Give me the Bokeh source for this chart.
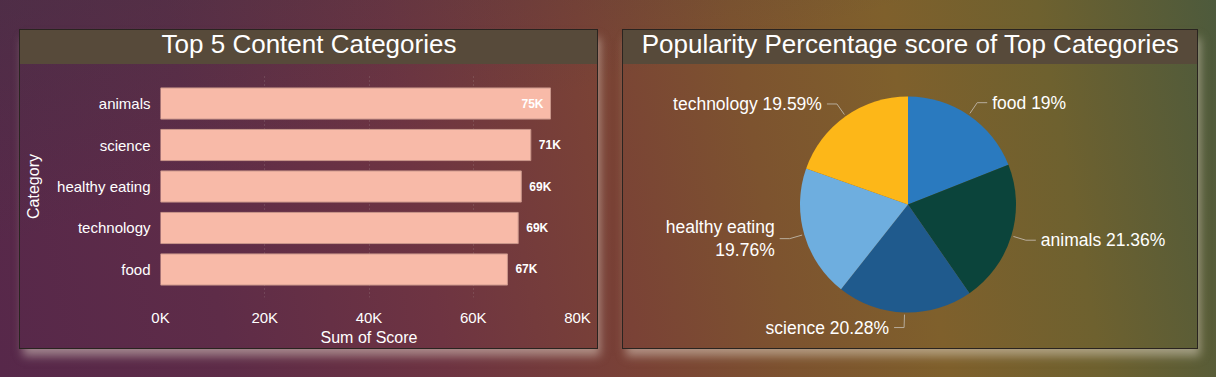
import math
from bokeh.plotting import figure
from bokeh.layouts import row, column
from bokeh.models import (ColumnDataSource, FactorRange, Range1d, FixedTicker,
                          CustomJSTickFormatter)
from bokeh.core.properties import value
from bokeh.embed import file_html
from bokeh.resources import INLINE

FONT = "Liberation Sans"

# ---------------- data ----------------
categories = ["animals", "science", "healthy eating", "technology", "food"]
scores = [74824, 71041, 69219, 68624, 66557]
x_ticks = [0, 20000, 40000, 60000, 80000]
x_tick_labels = ["0K", "20K", "40K", "60K", "80K"]
pie_order = ["food", "animals", "science", "healthy eating", "technology"]
pie_colors = ["#2a7abf", "#0b443b", "#1f5a8d", "#6eaedf", "#fdb718"]
titles = ["Top 5 Content Categories", "Popularity Percentage score of Top Categories"]

X_MAX = x_ticks[-1]

# ---------------- styling helpers ----------------
BAND_H = 34
CHART_H = 284
LEFT_W = 577
RIGHT_W = 574
BL, BR = 140, 20   # bar chart side borders
BAND_COLOR = "#574a3a"


def title_band(w, txt, left=0, right=0):
    # frame spans the same px columns as the chart below it; data units == px
    b = figure(width=w, height=BAND_H, x_range=Range1d(left, w - right),
               y_range=Range1d(0, BAND_H), x_axis_type=None, y_axis_type=None,
               min_border=0, min_border_left=left, min_border_right=right,
               toolbar_location=None, output_backend="svg",
               background_fill_color=None, border_fill_color=None,
               outline_line_color=None, styles={"background-color": BAND_COLOR})
    b.text(x=[w / 2], y=[BAND_H - 13], text=[txt], text_align="center",
           text_baseline="middle", text_font=value(FONT), text_font_size="26px",
           text_color="white")
    return b


# ---------------- bar chart ----------------
p1 = figure(width=LEFT_W, height=CHART_H,
            y_range=FactorRange(factors=categories[::-1], range_padding=0.175,
                                range_padding_units="absolute"),
            x_range=Range1d(0, X_MAX), output_backend="svg", toolbar_location=None,
            min_border_left=BL, min_border_right=BR, min_border_top=11,
            min_border_bottom=51, background_fill_color=None, border_fill_color=None,
            outline_line_color=None)

src = ColumnDataSource(dict(cat=categories, score=scores))
p1.hbar(y="cat", right="score", height=0.75, source=src,
        fill_color="#f8baa8", line_color="#c9968a", line_width=1)

labels = [f"{round(v / 1000)}K" for v in scores]
inside = [v > X_MAX - 6000 for v in scores]
src_in = ColumnDataSource(dict(
    cat=[c for c, f in zip(categories, inside) if f],
    score=[v for v, f in zip(scores, inside) if f],
    lbl=[l for l, f in zip(labels, inside) if f]))
src_out = ColumnDataSource(dict(
    cat=[c for c, f in zip(categories, inside) if not f],
    score=[v for v, f in zip(scores, inside) if not f],
    lbl=[l for l, f in zip(labels, inside) if not f]))
for s, off, al in ((src_in, -7, "right"), (src_out, 8, "left")):
    p1.text(x="score", y="cat", text="lbl", source=s, x_offset=off, text_align=al,
            text_baseline="middle", text_font=value(FONT), text_font_size="12px",
            text_font_style="bold", text_color="white")

ticker = FixedTicker(ticks=x_ticks)
p1.xaxis.ticker = ticker
p1.xgrid.ticker = ticker
p1.xaxis.formatter = CustomJSTickFormatter(
    args=dict(tv=x_ticks, tl=x_tick_labels),
    code="const i = tv.indexOf(tick); return i >= 0 ? tl[i] : '';")
p1.xgrid.grid_line_color = "#a89a9a"
p1.xgrid.grid_line_alpha = 0.45
p1.xgrid.grid_line_dash = "1 3"
p1.ygrid.grid_line_color = None

for ax in (p1.xaxis[0], p1.yaxis[0]):
    ax.axis_line_color = None
    ax.major_tick_line_color = None
    ax.minor_tick_line_color = None
    ax.major_tick_out = 0
    ax.major_tick_in = 0
    ax.major_label_text_font = FONT
    ax.major_label_text_font_size = "15px"
    ax.major_label_text_color = "white"
    ax.axis_label_text_font = FONT
    ax.axis_label_text_font_size = "16px"
    ax.axis_label_text_font_style = "normal"
    ax.axis_label_text_color = "white"

p1.xaxis.axis_label = "Sum of Score"
p1.xaxis.major_label_standoff = 11
p1.xaxis.axis_label_standoff = 0
p1.yaxis.axis_label = "Category"
p1.yaxis.major_label_standoff = 10
p1.yaxis.axis_label_standoff = 12

# ---------------- pie chart ----------------
R = 108.0          # pie radius in px
CX, CY = 284.5, 140.0  # pie centre inside the plot (px from left / top)
p2 = figure(width=RIGHT_W, height=CHART_H,
            x_range=Range1d(-CX / R, (RIGHT_W - CX) / R),
            y_range=Range1d(-(CHART_H - CY) / R, CY / R),
            x_axis_type=None, y_axis_type=None, min_border=0, toolbar_location=None,
            output_backend="svg", background_fill_color=None, border_fill_color=None,
            outline_line_color=None)

score_of = dict(zip(categories, scores))
pie_vals = [score_of[c] for c in pie_order]
total = sum(pie_vals)
fracs = [v / total for v in pie_vals]
starts, ends, mids = [], [], []
cum = 0.0
for f in fracs:
    starts.append(math.pi / 2 - 2 * math.pi * cum)
    mids.append(2 * math.pi * (cum + f / 2))
    cum += f
    ends.append(math.pi / 2 - 2 * math.pi * cum)

p2.wedge(x=0, y=0, radius=1, start_angle="s", end_angle="e", direction="clock",
         fill_color="c", line_color=None,
         source=ColumnDataSource(dict(s=starts, e=ends, c=pie_colors)))


def pct_text(f):
    s = f"{f * 100:.2f}".rstrip("0").rstrip(".")
    return s + "%"


xs, ys = [], []
lt = dict(left=dict(x=[], y=[], t=[]), right=dict(x=[], y=[], t=[]))
for cat, f, a in zip(pie_order, fracs, mids):
    ux, uy = math.sin(a), math.cos(a)
    sign = 1 if ux >= 0 else -1
    x0, y0 = 1.02 * ux, 1.02 * uy
    x1, y1 = 1.14 * ux, 1.14 * uy
    x2 = x1 + sign * 10 / R
    xs.append([x0, x1, x2])
    ys.append([y0, y1, y1])
    txt = f"{cat} {pct_text(f)}"
    if len(txt) > 18:
        k = txt.rfind(" ")
        txt = txt[:k] + "\n" + txt[k + 1:]
    side = "left" if sign > 0 else "right"
    lt[side]["x"].append(x2 + sign * 5 / R)
    lt[side]["y"].append(y1)
    lt[side]["t"].append(txt)

p2.multi_line(xs=xs, ys=ys, line_color="#b8ad9c", line_width=1)
for al in ("left", "right"):
    p2.text(x="x", y="y", text="t", source=ColumnDataSource(lt[al]), text_align=al,
            text_baseline="middle", text_font=value(FONT), text_font_size="17.5px",
            text_line_height=1.15, text_color="white")

# ---------------- layout ----------------
panel_style = {"box-shadow": "0 0 0 1px #2a2420, 3px 8px 9px rgba(230,220,205,0.5)"}
left_panel = column(title_band(LEFT_W, titles[0], BL, BR), p1, styles=panel_style,
                    margin=(30, 0, 0, 20))
right_panel = column(title_band(RIGHT_W, titles[1]), p2, styles=panel_style,
                     margin=(30, 0, 0, 26))

bg = ("linear-gradient(165deg, rgba(55,55,65,0.30) 0%, rgba(55,55,65,0) 35%), "
      "linear-gradient(80deg, #57284a 0%, #5e2c48 18%, #6e3442 35%, #7a4236 50%, "
      "#7d532f 62%, #7f602c 74%, #6e612f 86%, #4d5a3c 100%)")
root = row(left_panel, right_panel, width=1216, height=377,
           styles={"background": bg, "width": "1216px", "height": "377px"})

open("out.html", "w").write(file_html(root, INLINE))
